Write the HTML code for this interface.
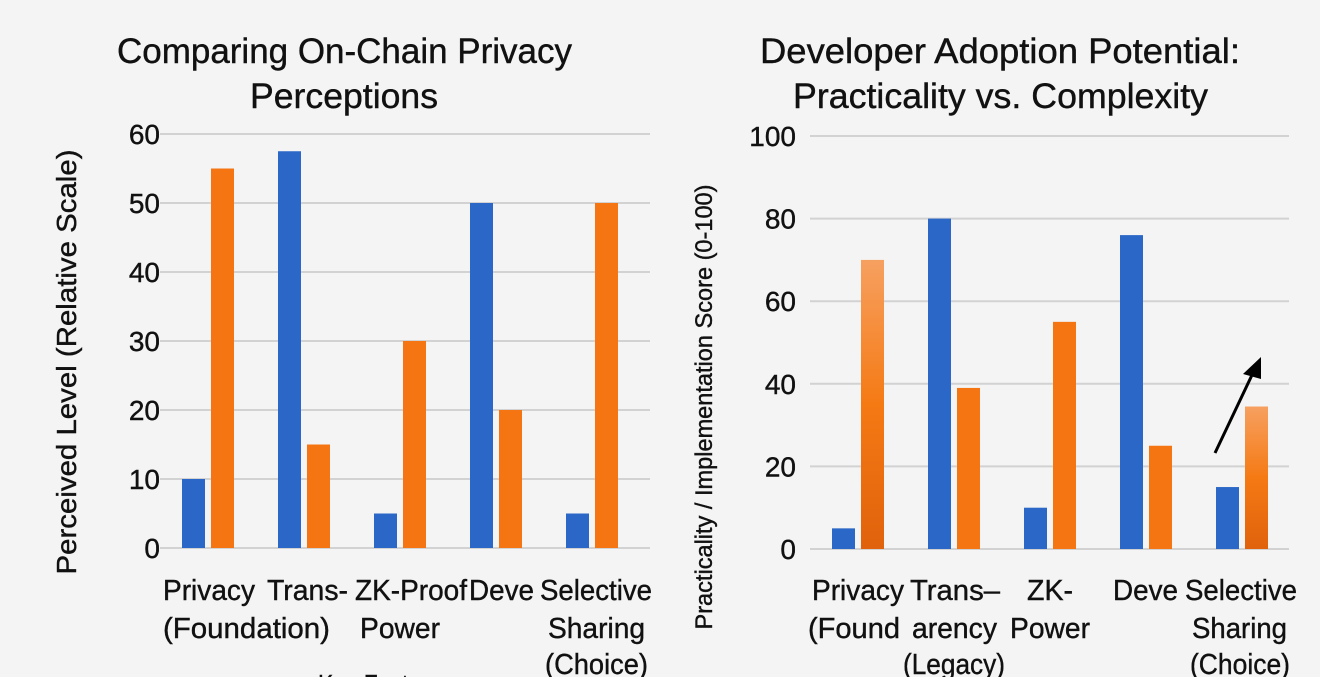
<!DOCTYPE html>
<html><head><meta charset="utf-8"><style>
body{margin:0;background:#f4f4f4;}
svg{display:block;font-family:"Liberation Sans",sans-serif;}
</style></head><body>
<svg id="s" width="1320" height="677" viewBox="0 0 1320 677">
<defs>
<linearGradient id="og" x1="0" y1="0" x2="0" y2="1"><stop offset="0" stop-color="#f6a060"/><stop offset="0.5" stop-color="#f57a14"/><stop offset="1" stop-color="#e0620c"/></linearGradient>
</defs>
<rect width="1320" height="677" fill="#f4f4f4"/>
<g id="left"></g>
<g id="right"></g>
</svg>
<script>
const cats=["Privacy","Trans-","ZK-Proof","Deve","Selective"];
const leftBlue=[10,57.5,5,50,5];
const leftOrange=[55,15,30,20,50];
const leftTicks=[0,10,20,30,40,50,60];
const rightBlue=[5,80,10,76,15];
const rightOrange=[70,39,55,25,34.5];
const rightTicks=[0,20,40,60,80,100];
const NS="http://www.w3.org/2000/svg";
function mk(p,t,a,txt){const e=document.createElementNS(NS,t);for(const k in a)e.setAttribute(k,a[k]);if(txt!=null)e.textContent=txt;p.appendChild(e);return e;}
function chart(g,o){
  const y=v=>o.y0-(v-o.min)/(o.max-o.min)*(o.y0-o.y1);
  o.ticks.forEach(t=>{
    const l=mk(g,'line',{x1:o.gx0,x2:o.gx1,y1:y(t),y2:y(t),stroke:'#d2d2d2','stroke-width':2});
    
    
    const tx=mk(g,'text',{x:o.tx,y:y(t)+10,'text-anchor':'end','font-size':o.tf,fill:'#111',stroke:'#111','stroke-width':0.4},t);
    
    
  });
  o.blue.forEach((v,i)=>{
    const x=o.bx+i*96;
    const r=mk(g,'rect',{x:x,y:y(v),width:23,height:o.y0-y(v),fill:'#2a67c6'});
    
    
  });
  o.orange.forEach((v,i)=>{
    const x=o.bx+29+i*96;
    const r=mk(g,'rect',{x:x,y:y(v),width:23,height:o.y0-y(v),fill:(o.grad&&o.grad.includes(i))?'url(#og)':'#f47512'});
    
    
  });
}
const L=document.getElementById('left'),R=document.getElementById('right');
chart(L,{min:0,max:60,y0:548,y1:134,gx0:160,gx1:650,tx:160,tf:28,ticks:leftTicks,blue:leftBlue,orange:leftOrange,bx:182});
chart(R,{min:0,max:100,y0:549,y1:136,gx0:810,gx1:1289,tx:796,tf:28,ticks:rightTicks,blue:rightBlue,orange:rightOrange,bx:832,grad:[0,4]});
</script>
<script>
(function(){
const NS="http://www.w3.org/2000/svg";const s=document.getElementById('s');
function t(x0,x1,y,txt,fs,name,rot){const e=document.createElementNS(NS,'text');
const c=(x0+x1)/2;
e.setAttribute('x',c);e.setAttribute('y',y);e.setAttribute('font-size',fs);e.setAttribute('fill','#111');e.setAttribute('stroke','#111');e.setAttribute('stroke-width','0.4');e.setAttribute('text-anchor','middle');
e.setAttribute('textLength',x1-x0);e.setAttribute('lengthAdjust','spacingAndGlyphs');
if(rot)e.setAttribute('transform','rotate(-90 '+c+' '+y+')');
e.textContent=txt;s.appendChild(e);}
t(117,572,63,"Comparing On-Chain Privacy",35,'left-title-line1');
t(250,438,108,"Perceptions",35,'left-title-line2');
t(760,1240,63,"Developer Adoption Potential:",35,'right-title-line1');
t(793,1208,108,"Practicality vs. Complexity",35,'right-title-line2');
function rt(cx,cy,len,txt,fs,name){const e=document.createElementNS(NS,'text');e.setAttribute('x',cx);e.setAttribute('y',cy);e.setAttribute('font-size',fs);e.setAttribute('fill','#111');e.setAttribute('stroke','#111');e.setAttribute('stroke-width','0.4');e.setAttribute('text-anchor','middle');e.setAttribute('textLength',len);e.setAttribute('lengthAdjust','spacingAndGlyphs');e.setAttribute('transform','rotate(-90 '+cx+' '+cy+')');e.textContent=txt;s.appendChild(e);}
rt(76,362,425,"Perceived Level (Relative Scale)",28,'left-y-axis-title');
rt(712,407,445,"Practicality / Implementation Score (0-100)",24,'right-y-axis-title');
const labs=[
[163,255,600,"Privacy"],[267,348,600,"Trans-"],[355,467,600,"ZK-Proof"],[469,534,600,"Deve"],[540,652,600,"Selective"],
[163,330,638,"(Foundation)"],[360,440,638,"Power"],[548,645,638,"Sharing"],[545,648,674,"(Choice)"],
[812,904,600,"Privacy"],[910,1000,600,"Trans–"],[1027,1073,600,"ZK-"],[1113,1178,600,"Deve"],[1185,1297,600,"Selective"],
[808,900,638,"(Found"],[912,997,638,"arency"],[1010,1090,638,"Power"],[1192,1287,638,"Sharing"],
[903,1005,674,"(Legacy)"],[1190,1290,674,"(Choice)"]];
labs.forEach(l=>t(l[0],l[1],l[2],l[3],29,'x-category-label'));
t(318,440,694,"Key Factors",28,'left-x-axis-title');
const a=document.createElementNS(NS,'line');a.setAttribute('x1',1215);a.setAttribute('y1',453);a.setAttribute('x2',1252);a.setAttribute('y2',375);a.setAttribute('stroke','#000');a.setAttribute('stroke-width',3);
s.appendChild(a);
const h=document.createElementNS(NS,'polygon');h.setAttribute('points','1261,357 1243,374 1261,379');h.setAttribute('fill','#000');
s.appendChild(h);
})();
</script>
</body></html>
